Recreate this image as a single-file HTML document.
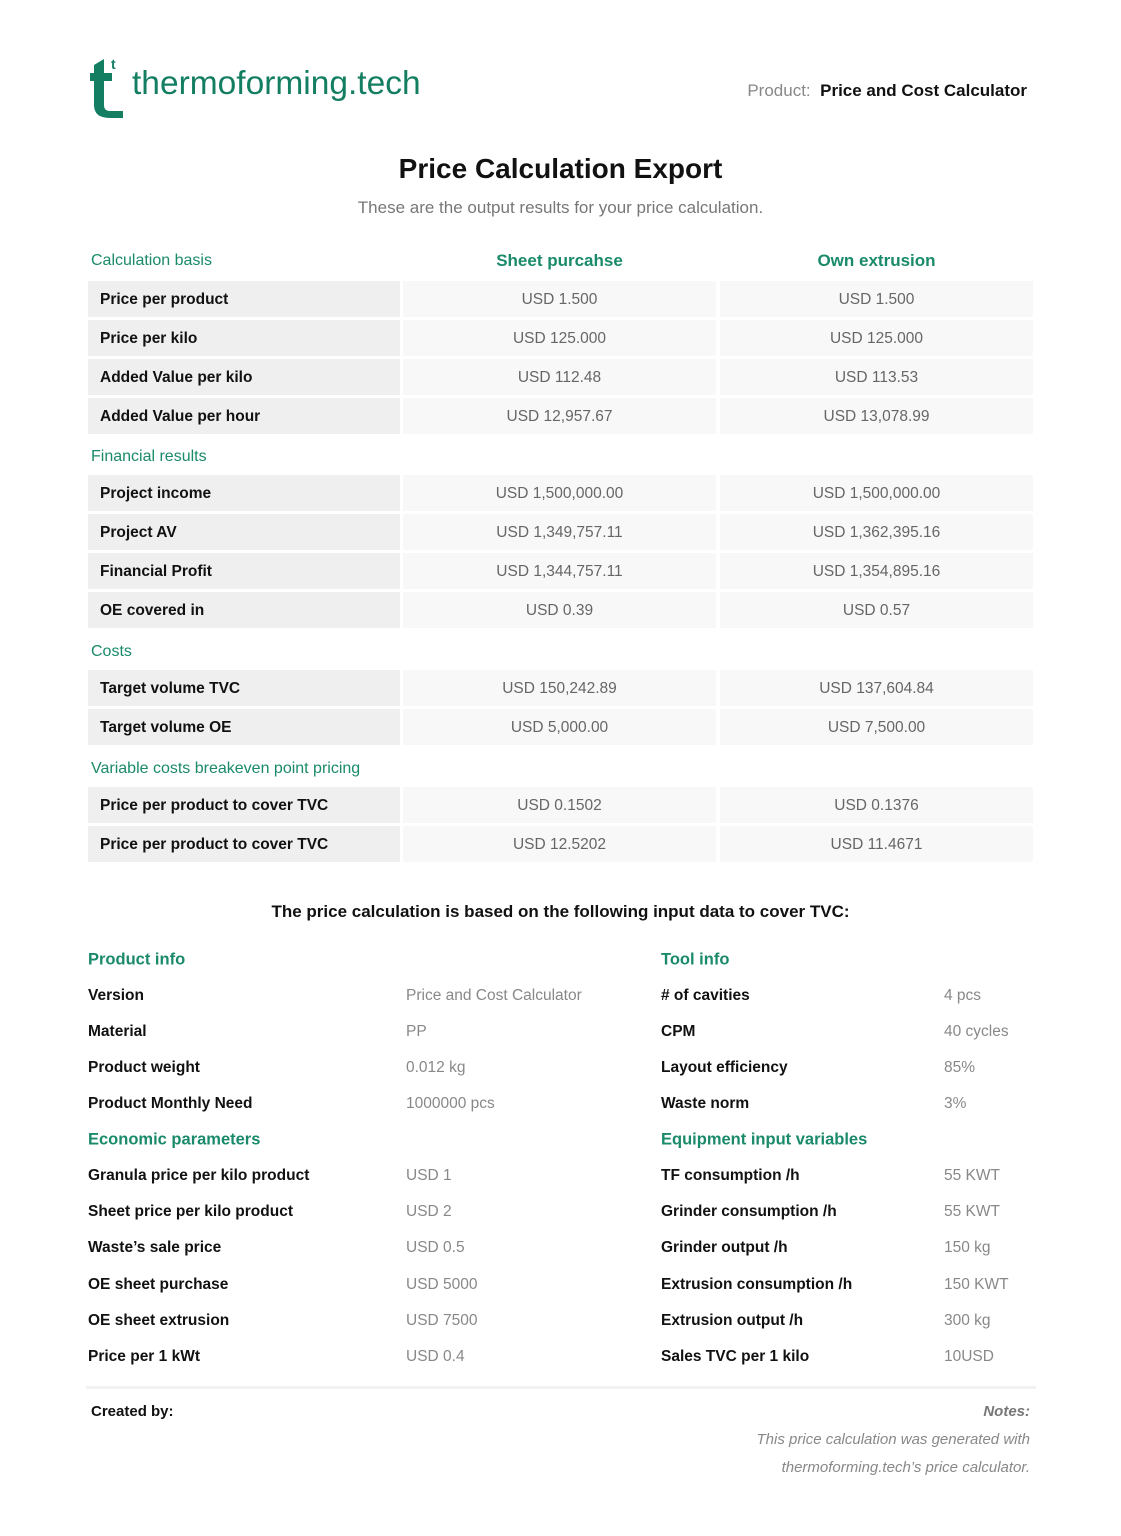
<!DOCTYPE html>
<html><head><meta charset="utf-8"><style>
body{margin:0;background:#fff;font-family:"Liberation Sans",sans-serif;}
#p{position:relative;width:1121px;height:1536px;overflow:hidden;}
.a{position:absolute;white-space:nowrap;line-height:1;}
.g{color:#1a8a6a;}
.sec{position:absolute;left:91px;font-size:16px;color:#1a8a6a;transform:translateY(-50%);}
.row{position:absolute;left:88px;width:945px;height:36px;}
.row .l{position:absolute;left:0;width:312px;height:36px;background:#efefef;font-weight:bold;font-size:15.5px;color:#111;line-height:38px;padding-left:12px;box-sizing:border-box;}
.row .v1,.row .v2{position:absolute;width:313px;height:36px;background:#f8f8f8;text-align:center;line-height:38px;font-size:15.5px;color:#666;}
.row .v1{left:315px}.row .v2{left:632px}
.k{position:absolute;font-weight:bold;font-size:15.5px;color:#111;transform:translateY(-45%);}
.v{position:absolute;font-size:15.5px;color:#888;transform:translateY(-45%);}
.h{position:absolute;font-weight:bold;font-size:16.5px;color:#1a8a6a;transform:translateY(-45%);}
</style></head><body><div id="p">
<svg class="a" style="left:88px;top:55px" width="40" height="66" viewBox="0 0 40 66">
<path d="M6 10 L16 4 L16 18 L24 18 L24 26 L16 26 L16 50 Q16 56 22 56 L35 56 L35 63 L22 63 Q6 63 6 50 L6 26 L2 26 L2 18 L6 18 Z" fill="#137e62"/>
<text x="23" y="14" font-family="Liberation Sans" font-weight="bold" font-size="14" fill="#137e62">t</text>
</svg>
<div class="a g" style="left:132px;top:67px;font-size:33.5px;color:#137e62;">thermoforming.tech</div>
<div class="a" style="right:94px;top:82px;font-size:17px;color:#888;">Product:&nbsp; <b style="color:#111">Price and Cost Calculator</b></div>
<div class="a" style="left:0;width:1121px;text-align:center;top:155px;font-size:28px;font-weight:bold;color:#111;">Price Calculation Export</div>
<div class="a" style="left:0;width:1121px;text-align:center;top:199px;font-size:17px;color:#777;">These are the output results for your price calculation.</div>

<div class="sec" style="top:261px">Calculation basis</div>
<div class="a g" style="left:403px;width:313px;text-align:center;top:252px;font-size:17px;font-weight:bold;">Sheet purcahse</div>
<div class="a g" style="left:720px;width:313px;text-align:center;top:252px;font-size:17px;font-weight:bold;">Own extrusion</div>
<div class="row" style="top:281px"><div class="l">Price per product</div><div class="v1">USD 1.500</div><div class="v2">USD 1.500</div></div>
<div class="row" style="top:320px"><div class="l">Price per kilo</div><div class="v1">USD 125.000</div><div class="v2">USD 125.000</div></div>
<div class="row" style="top:359px"><div class="l">Added Value per kilo</div><div class="v1">USD 112.48</div><div class="v2">USD 113.53</div></div>
<div class="row" style="top:398px"><div class="l">Added Value per hour</div><div class="v1">USD 12,957.67</div><div class="v2">USD 13,078.99</div></div>
<div class="sec" style="top:457px">Financial results</div>
<div class="row" style="top:475px"><div class="l">Project income</div><div class="v1">USD 1,500,000.00</div><div class="v2">USD 1,500,000.00</div></div>
<div class="row" style="top:514px"><div class="l">Project AV</div><div class="v1">USD 1,349,757.11</div><div class="v2">USD 1,362,395.16</div></div>
<div class="row" style="top:553px"><div class="l">Financial Profit</div><div class="v1">USD 1,344,757.11</div><div class="v2">USD 1,354,895.16</div></div>
<div class="row" style="top:592px"><div class="l">OE covered in</div><div class="v1">USD 0.39</div><div class="v2">USD 0.57</div></div>
<div class="sec" style="top:652px">Costs</div>
<div class="row" style="top:670px"><div class="l">Target volume TVC</div><div class="v1">USD 150,242.89</div><div class="v2">USD 137,604.84</div></div>
<div class="row" style="top:709px"><div class="l">Target volume OE</div><div class="v1">USD 5,000.00</div><div class="v2">USD 7,500.00</div></div>
<div class="sec" style="top:769px">Variable costs breakeven point pricing</div>
<div class="row" style="top:787px"><div class="l">Price per product to cover TVC</div><div class="v1">USD 0.1502</div><div class="v2">USD 0.1376</div></div>
<div class="row" style="top:826px"><div class="l">Price per product to cover TVC</div><div class="v1">USD 12.5202</div><div class="v2">USD 11.4671</div></div>

<div class="a" style="left:0;width:1121px;text-align:center;top:903px;font-size:17px;font-weight:bold;color:#111;">The price calculation is based on the following input data to cover TVC:</div>

<div class="h" style="left:88px;top:959px">Product info</div>
<div class="k" style="left:88px;top:995px">Version</div><div class="v" style="left:406px;top:995px">Price and Cost Calculator</div>
<div class="k" style="left:88px;top:1031px">Material</div><div class="v" style="left:406px;top:1031px">PP</div>
<div class="k" style="left:88px;top:1067px">Product weight</div><div class="v" style="left:406px;top:1067px">0.012 kg</div>
<div class="k" style="left:88px;top:1103px">Product Monthly Need</div><div class="v" style="left:406px;top:1103px">1000000 pcs</div>
<div class="h" style="left:88px;top:1139px">Economic parameters</div>
<div class="k" style="left:88px;top:1175px">Granula price per kilo product</div><div class="v" style="left:406px;top:1175px">USD 1</div>
<div class="k" style="left:88px;top:1211px">Sheet price per kilo product</div><div class="v" style="left:406px;top:1211px">USD 2</div>
<div class="k" style="left:88px;top:1247px">Waste’s sale price</div><div class="v" style="left:406px;top:1247px">USD 0.5</div>
<div class="k" style="left:88px;top:1284px">OE sheet purchase</div><div class="v" style="left:406px;top:1284px">USD 5000</div>
<div class="k" style="left:88px;top:1320px">OE sheet extrusion</div><div class="v" style="left:406px;top:1320px">USD 7500</div>
<div class="k" style="left:88px;top:1356px">Price per 1 kWt</div><div class="v" style="left:406px;top:1356px">USD 0.4</div>

<div class="h" style="left:661px;top:959px">Tool info</div>
<div class="k" style="left:661px;top:995px"># of cavities</div><div class="v" style="left:944px;top:995px">4 pcs</div>
<div class="k" style="left:661px;top:1031px">CPM</div><div class="v" style="left:944px;top:1031px">40 cycles</div>
<div class="k" style="left:661px;top:1067px">Layout efficiency</div><div class="v" style="left:944px;top:1067px">85%</div>
<div class="k" style="left:661px;top:1103px">Waste norm</div><div class="v" style="left:944px;top:1103px">3%</div>
<div class="h" style="left:661px;top:1139px">Equipment input variables</div>
<div class="k" style="left:661px;top:1175px">TF consumption /h</div><div class="v" style="left:944px;top:1175px">55 KWT</div>
<div class="k" style="left:661px;top:1211px">Grinder consumption /h</div><div class="v" style="left:944px;top:1211px">55 KWT</div>
<div class="k" style="left:661px;top:1247px">Grinder output /h</div><div class="v" style="left:944px;top:1247px">150 kg</div>
<div class="k" style="left:661px;top:1284px">Extrusion consumption /h</div><div class="v" style="left:944px;top:1284px">150 KWT</div>
<div class="k" style="left:661px;top:1320px">Extrusion output /h</div><div class="v" style="left:944px;top:1320px">300 kg</div>
<div class="k" style="left:661px;top:1356px">Sales TVC per 1 kilo</div><div class="v" style="left:944px;top:1356px">10USD</div>

<div class="a" style="left:86px;top:1386px;width:950px;height:3px;background:#f2f2f2;"></div>
<div class="a" style="left:91px;top:1404px;font-size:15px;font-weight:bold;color:#111;">Created by:</div>
<div class="a" style="right:91px;top:1404px;font-size:15px;font-weight:bold;font-style:italic;color:#777;">Notes:</div>
<div class="a" style="right:91px;top:1432px;font-size:15px;font-style:italic;color:#888;">This price calculation was generated with</div>
<div class="a" style="right:91px;top:1460px;font-size:15px;font-style:italic;color:#888;">thermoforming.tech’s price calculator.</div>
</div></body></html>
